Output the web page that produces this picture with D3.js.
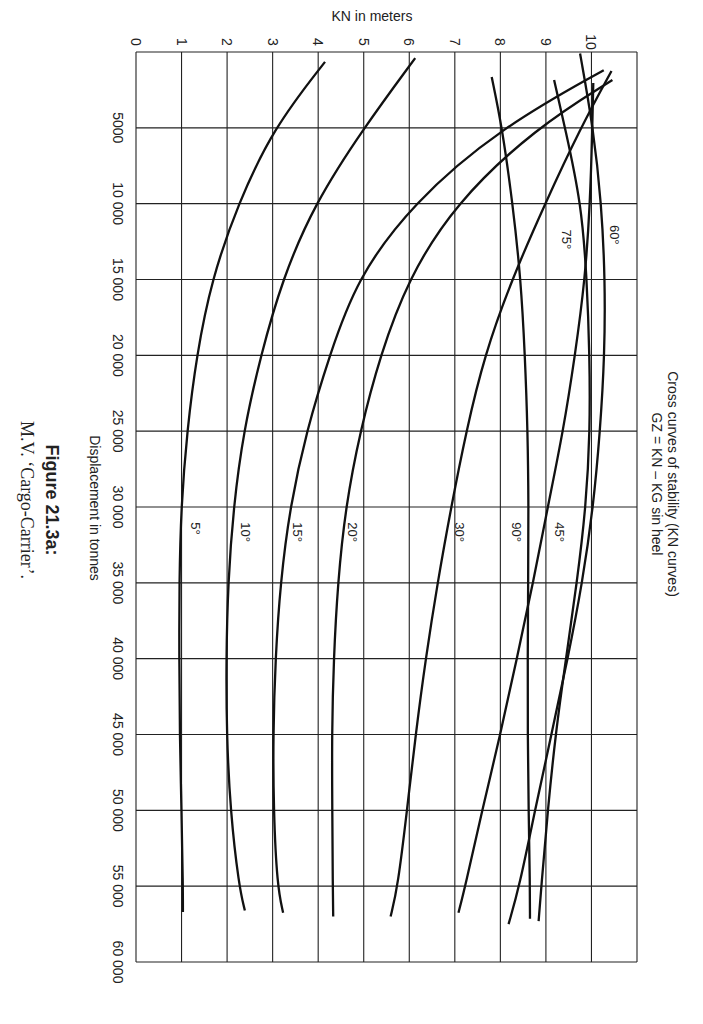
<!DOCTYPE html>
<html><head><meta charset="utf-8">
<script src="https://cdn.jsdelivr.net/npm/d3@7"></script>
<style>body{margin:0;background:#fff}</style></head>
<body><svg id="c" width="703" height="1024"></svg>
<script>
const knTicks = [0,1,2,3,4,5,6,7,8,9,10];
const dispTicks = [5000,10000,15000,20000,25000,30000,35000,40000,45000,50000,55000,60000];
const dispLabels = ["5000","10 000","15 000","20 000","25 000","30 000","35 000","40 000","45 000","50 000","55 000","60 000"];
const disp = [5000,10000,15000,20000,25000,30000,35000,40000,45000,50000,55000];
// each curve: start point [disp, KN], KN values at disp[], end point
const c5  = {name:"5°",  start:[650,4.15],  vals:[3.02,2.24,1.66,1.33,1.12,0.99,0.95,0.95,0.96,1.0,1.03], end:[56700,1.03]};
const c10 = {name:"10°", start:[400,6.13],  vals:[5.0,3.92,3.21,2.74,2.36,2.14,2.02,1.98,1.99,2.07,2.26], end:[56600,2.39]};
const c15 = {name:"15°", start:[1200,10.27],vals:[8.0,6.06,4.84,4.25,3.74,3.38,3.17,3.06,3.01,3.02,3.1], end:[56750,3.23]};
const c20 = {name:"20°", start:[1850,10.46],vals:[8.78,7.0,5.97,5.36,4.92,4.6,4.43,4.34,4.3,4.31,4.32], end:[57000,4.33]};
const c30 = {name:"30°", start:[1250,10.44],vals:[9.76,8.98,8.25,7.65,7.25,6.92,6.62,6.36,6.14,5.95,5.75], end:[57000,5.59]};
const c45 = {name:"45°", start:[2050,10.04],vals:[10.02,9.97,9.86,9.64,9.38,9.04,8.72,8.36,8.0,7.6,7.23], end:[56750,7.08]};
const c60 = {name:"60°", start:[100,9.75],  vals:[10.04,10.22,10.3,10.29,10.19,10.04,9.8,9.48,9.12,8.76,8.42], end:[57500,8.18]};
const c75 = {name:"75°", start:[1850,9.18], vals:[9.42,9.78,9.9,9.96,9.97,9.88,9.68,9.44,9.21,9.04,8.9], end:[57300,8.84]};
const c90 = {name:"90°", start:[1650,7.81], vals:[8.04,8.27,8.45,8.54,8.6,8.62,8.61,8.6,8.6,8.62,8.65], end:[57150,8.65]};
const curves = [c5,c10,c15,c20,c30,c45,c60,c75,c90];
// label anchors [text, kn, disp]
const curveLabels = [["5°",1.3,31000],["10°",2.4,31000],["15°",3.55,31000],["20°",4.75,31000],["30°",7.1,31000],
  ["90°",8.35,31000],["45°",9.3,31000],["75°",9.45,11700],["60°",10.5,11400]];

const svg = d3.select("#c");
const x = d3.scaleLinear().domain([0,11]).range([136,637]);
const y = d3.scaleLinear().domain([0,60000]).range([52,962]);
const g = svg.append("g");
g.selectAll("line.v").data(d3.range(0,12)).join("line")
  .attr("x1",d=>x(d)).attr("x2",d=>x(d)).attr("y1",y(0)).attr("y2",y(60000))
  .attr("stroke","#222").attr("stroke-width",1.1);
g.selectAll("line.h").data([0].concat(dispTicks)).join("line")
  .attr("y1",d=>y(d)).attr("y2",d=>y(d)).attr("x1",x(0)).attr("x2",x(11))
  .attr("stroke","#222").attr("stroke-width",1.1);
const font = "Liberation Sans, Arial, sans-serif";
function rtext(px,py,txt,size,opts={}){
  return svg.append("text").attr("transform",`translate(${px},${py}) rotate(90)`)
    .attr("text-anchor",opts.anchor||"middle").attr("dominant-baseline","central")
    .attr("font-family",opts.family||font).attr("font-size",size)
    .attr("font-weight",opts.weight||"normal").attr("fill","#222").text(txt);
}
knTicks.forEach(k=>rtext(x(k),42,String(k),14));
dispTicks.forEach((d,i)=>rtext(118,y(d),dispLabels[i],14));
svg.append("text").attr("x",372).attr("y",21).attr("text-anchor","middle")
  .attr("font-family",font).attr("font-size",14).attr("fill","#222").text("KN in meters");
rtext(95,508,"Displacement in tonnes",14);
rtext(673,484,"Cross curves of stability (KN curves)",14);
rtext(657,484,"GZ = KN \u2013 KG sin heel",14);
rtext(52,500,"Figure 21.3a:",18,{weight:"bold"});
rtext(27,500,"M.V.  \u2018Cargo-Carrier\u2019.",18,{family:"Liberation Serif, serif"});
const line = d3.line().x(d=>x(d[1])).y(d=>y(d[0])).curve(d3.curveBasis);
curves.forEach(c=>{
  const pts = [c.start].concat(disp.map((d,i)=>[d,c.vals[i]])).concat([c.end]);
  svg.append("path").attr("d",line(pts)).attr("fill","none").attr("stroke","#111").attr("stroke-width",2.3);
});
curveLabels.forEach(l=>rtext(x(l[1]),y(l[2]),l[0],13,{anchor:"start"}));
</script></body></html>
